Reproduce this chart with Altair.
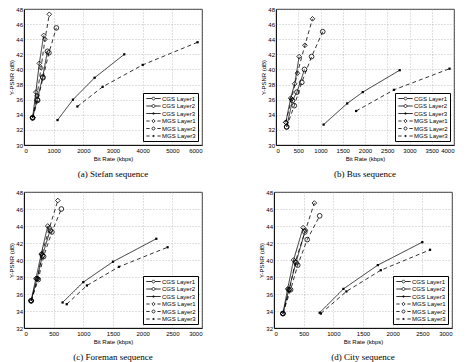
import altair as alt
import pandas as pd

SERIES = ["CGS Layer1", "CGS Layer2", "CGS Layer3", "MGS Layer1", "MGS Layer2", "MGS Layer3"]

# ---- (a) Stefan ----
stefan_rate = [
    [290, 400, 516, 663],
    [290, 445, 630, 790],
    [1130, 1650, 2380, 3380],
    [290, 438, 573, 708, 853],
    [290, 461, 640, 840, 1090],
    [1800, 2650, 4000, 5850],
]
stefan_psnr = [
    [33.6, 37.0, 40.8, 44.5],
    [33.6, 36.0, 39.0, 42.4],
    [33.3, 36.0, 38.9, 42.0],
    [33.6, 36.5, 40.2, 44.0, 47.3],
    [33.6, 35.9, 38.9, 42.2, 45.5],
    [35.1, 37.7, 40.6, 43.6],
]

# ---- (b) Bus ----
bus_rate = [
    [220, 330, 420, 520],
    [240, 370, 470, 640],
    [1070, 1600, 1950, 2780],
    [220, 350, 480, 650, 820],
    [240, 410, 580, 800, 1050],
    [1800, 2650, 3900],
]
bus_psnr = [
    [33.0, 36.2, 38.1, 41.7],
    [32.4, 35.9, 37.0, 40.0],
    [32.7, 35.5, 37.0, 39.9],
    [33.0, 36.1, 39.5, 43.2, 46.7],
    [32.4, 35.2, 38.3, 41.7, 45.0],
    [34.5, 37.3, 40.1],
]

# ---- (c) Foreman ----
foreman_rate = [
    [120, 200, 290, 400],
    [120, 220, 310, 440],
    [650, 1000, 1500, 2230],
    [120, 230, 300, 430, 570],
    [120, 240, 330, 470, 630],
    [720, 1060, 1600, 2420],
]
foreman_psnr = [
    [35.2, 37.8, 40.7, 44.0],
    [35.2, 37.8, 40.5, 43.5],
    [35.0, 37.4, 39.8, 42.5],
    [35.2, 37.8, 40.7, 43.8, 47.0],
    [35.2, 37.7, 40.4, 43.3, 46.0],
    [34.8, 37.0, 39.2, 41.5],
]

# ---- (d) City ----
city_rate = [
    [150, 230, 330, 490],
    [150, 250, 370, 520],
    [770, 1170, 1750, 2500],
    [150, 260, 360, 530, 680],
    [150, 280, 400, 560, 770],
    [790, 1220, 1800, 2630],
]
city_psnr = [
    [33.7, 36.6, 40.0, 43.8],
    [33.7, 36.5, 39.7, 43.3],
    [33.8, 36.6, 39.4, 42.1],
    [33.7, 36.5, 39.8, 43.5, 46.7],
    [33.7, 36.5, 39.4, 42.4, 45.2],
    [33.7, 36.3, 38.8, 41.2],
]

DASHES = [[1, 0], [1, 0], [1, 0], [4, 3], [4, 3], [4, 3]]
MARKERS = ["diamond", "circle", "square", "diamond", "circle", "square"]

DIAM = "M0,-0.55L0.55,0L0,0.55L-0.55,0Z"
CIRC = "M0.5,0A0.5,0.5,0,1,1,-0.5,0A0.5,0.5,0,1,1,0.5,0"
DOT = "M-0.2,-0.2H0.2V0.2H-0.2Z"
SOLID_L = "M-2.4,0H-0.55M0.55,0H2.4"
DASH_L = "M-2.4,0H-1.3M1.3,0H2.4"
LEGEND_PATHS = [
    SOLID_L + DIAM,
    SOLID_L + CIRC,
    "M-2.4,0H2.4" + DOT,
    DASH_L + DIAM,
    DASH_L + CIRC,
    DASH_L + DOT,
]

FONT = "Liberation Sans"


def panel(rates, psnrs, xmax, xstep, ymin, caption):
    rows = []
    for s, xs, ys in zip(SERIES, rates, psnrs):
        for i, (xv, yv) in enumerate(zip(xs, ys)):
            rows.append({"series": s, "rate": xv, "psnr": yv, "idx": i, "layer": s[-1]})
    df = pd.DataFrame(rows)
    x = alt.X("rate:Q", scale=alt.Scale(domain=[0, xmax], nice=False),
              axis=alt.Axis(values=list(range(0, xmax + 1, xstep)), title="Bit Rate (kbps)", format="d"))
    y = alt.Y("psnr:Q", scale=alt.Scale(domain=[ymin, 48], nice=False, zero=False),
              axis=alt.Axis(values=list(range(ymin, 49, 2)), title="Y-PSNR (dB)", format="d",
                            labelPadding=1.5, titlePadding=1))
    base = alt.Chart(df).encode(x=x, y=y)
    lines = base.mark_line(color="black", strokeWidth=0.8).encode(
        detail="series:N",
        strokeDash=alt.StrokeDash("series:N", scale=alt.Scale(domain=SERIES, range=DASHES), legend=None),
        order="idx:Q",
    )
    pts = base.transform_filter("datum.layer != '3'").mark_point(
        filled=False, color="black", strokeWidth=0.8, size=22, opacity=1
    ).encode(shape=alt.Shape("series:N", scale=alt.Scale(domain=SERIES, range=MARKERS), legend=None))
    dots = base.transform_filter("datum.layer == '3'").mark_square(color="black", size=5, opacity=1)
    leg = base.mark_point(filled=False, color="black", opacity=0).encode(
        shape=alt.Shape("series:N", scale=alt.Scale(domain=SERIES, range=LEGEND_PATHS),
                        legend=alt.Legend(title=None, orient="bottom-right", offset=4, padding=2,
                                          strokeColor="black", fillColor="white", cornerRadius=0,
                                          labelFont=FONT, labelFontSize=6, labelColor="black",
                                          symbolSize=36, symbolStrokeWidth=0.8, symbolOpacity=1,
                                          symbolStrokeColor="black", symbolFillColor="transparent",
                                          symbolOffset=5, labelOffset=5, rowPadding=0.5))
    )
    return alt.layer(lines, pts, dots, leg).resolve_scale(shape="independent").properties(
        width=178, height=136,
        title=alt.TitleParams(caption, orient="bottom", font="Liberation Serif", fontSize=9,
                              fontWeight="normal", color="black", offset=9, anchor="middle", frame="group"),
    )


a = panel(stefan_rate, stefan_psnr, 6000, 1000, 30, "(a) Stefan sequence")
b = panel(bus_rate, bus_psnr, 4000, 500, 30, "(b) Bus sequence")
c = panel(foreman_rate, foreman_psnr, 3000, 500, 32, "(c) Foreman sequence")
d = panel(city_rate, city_psnr, 3000, 500, 32, "(d) City sequence")

chart = alt.vconcat(
    alt.hconcat(a, b, spacing=55),
    alt.hconcat(c, d, spacing=55),
    spacing=8,
).properties(padding={"top": -3, "left": 0, "right": 0, "bottom": 0}, background="white").configure_axis(
    labelFont=FONT, labelFontSize=6, labelColor="black",
    titleFont=FONT, titleFontSize=6, titleFontWeight="normal", titleColor="black",
    domainColor="black", domainWidth=0.8, ticks=False, labelPadding=2, titlePadding=2,
    grid=True, gridDash=[1, 2], gridColor="#999999", gridWidth=0.6,
).configure_view(stroke="black", strokeWidth=0.8)

chart.save("out.html", embed_options={"renderer": "svg", "actions": False})
